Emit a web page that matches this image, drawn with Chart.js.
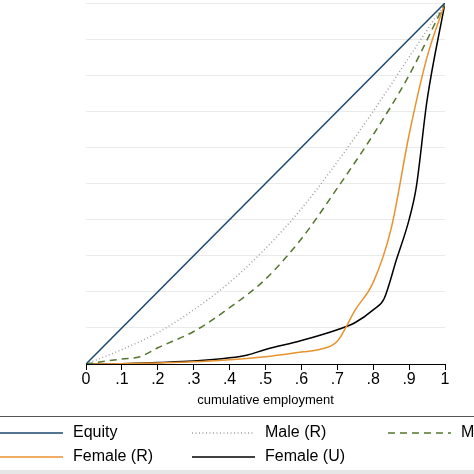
<!DOCTYPE html>
<html><head><meta charset="utf-8">
<script src="https://cdn.jsdelivr.net/npm/chart.js@4"></script>
<style>html,body{margin:0;padding:0;background:#fff}#c{display:block}</style>
</head><body>
<canvas id="c" width="474" height="474"></canvas>
<script>
// x values (cumulative employment) and curves
const equityX = [0, 1];
const equityY = [0, 1];
const maleRX = [0, .1, .2, .3, .4, .5, .6, .7, .8, .9, 1];
const maleRY = [0, .04, .087, .15, .226, .32, .43, .56, .70, .85, 1];
const maleUX = [0, .1, .15, .2, .3, .4, .5, .6, .7, .8, .9, 1];
const maleUY = [0, .014, .02, .045, .09, .156, .235, .347, .487, .635, .80, 1];
const femaleRX = [0, .1, .2, .3, .4, .5, .6, .65, .7, .75, .8, .85, .9, .95, 1];
const femaleRY = [0, .001, .003, .006, .012, .02, .033, .04, .063, .15, .226, .375, .635, .85, 1];
const femaleUX = [0, .1, .2, .3, .4, .45, .5, .6, .7, .75, .8, .83, .865, .9, .92, .95, 1];
const femaleUY = [0, .001, .004, .008, .017, .025, .04, .065, .095, .115, .15, .18, .29, .40, .49, .73, 1];
const xTicks = [0, .1, .2, .3, .4, .5, .6, .7, .8, .9, 1];

const pts = (xs, ys) => xs.map((x, i) => ({x: x, y: ys[i]}));

const series = [
  {label: 'Equity', data: pts(equityX, equityY), borderColor: '#1a476f', dash: []},
  {label: 'Male (R)', data: pts(maleRX, maleRY), borderColor: '#a0a0a0', dash: [1, 2.5]},
  {label: 'Male (U)', data: pts(maleUX, maleUY), borderColor: '#55752f', dash: [7, 5]},
  {label: 'Female (R)', data: pts(femaleRX, femaleRY), borderColor: '#e8922e', dash: []},
  {label: 'Female (U)', data: pts(femaleUX, femaleUY), borderColor: '#000000', dash: []}
];

// legend drawn by hand so it can run off the left/right edge like the original
const legendPlugin = {
  id: 'stataLegend',
  afterDraw(chart) {
    const ctx = chart.ctx;
    ctx.save();
    ctx.strokeStyle = '#555'; ctx.lineWidth = 1;
    ctx.beginPath(); ctx.moveTo(0, 416.5); ctx.lineTo(474, 416.5); ctx.stroke();
    ctx.fillStyle = '#e6e6e6'; ctx.fillRect(0, 470, 474, 4);
    const slots = [[0, 433], [192, 433], [388, 433], [0, 457], [192, 457]];
    ctx.font = '16px "Liberation Sans", Arial, sans-serif';
    ctx.textBaseline = 'middle';
    series.forEach((s, i) => {
      const [x, y] = slots[i];
      ctx.strokeStyle = s.borderColor; ctx.lineWidth = 1.5;
      ctx.setLineDash(s.dash);
      ctx.beginPath(); ctx.moveTo(x === 0 ? -5 : x, y); ctx.lineTo(x + 63, y); ctx.stroke();
      ctx.setLineDash([]);
      ctx.fillStyle = '#000';
      ctx.fillText(s.label, x + 73, y);
    });
    ctx.restore();
  }
};

new Chart(document.getElementById('c'), {
  type: 'scatter',
  data: {
    datasets: series.map(s => ({
      label: s.label, data: s.data, showLine: true, borderColor: s.borderColor,
      borderDash: s.dash, borderWidth: 1.5, pointRadius: 0, tension: 0.3,
      cubicInterpolationMode: 'monotone'
    }))
  },
  options: {
    responsive: false, animation: false,
    layout: {padding: {left: 86, right: 29, top: 3, bottom: 66}},
    plugins: {legend: {display: false}, tooltip: {enabled: false}},
    scales: {
      x: {
        type: 'linear', min: 0, max: 1,
        afterBuildTicks: s => { s.ticks = xTicks.map(v => ({value: v})); },
        afterFit: s => { s.height = 44; },
        grid: {drawOnChartArea: false, color: '#000', tickLength: 6},
        border: {color: '#000', width: 1},
        ticks: {color: '#000', font: {size: 16, family: 'Liberation Sans'}, padding: 0, maxRotation: 0,
          callback: v => v === 0 ? '0' : v === 1 ? '1' : String(v).replace(/^0/, '')},
        title: {display: true, text: 'cumulative employment', color: '#000', padding: {top: -2, bottom: 0},
          font: {size: 13, family: 'Liberation Sans'}}
      },
      y: {
        min: 0, max: 1,
        afterFit: s => { s.width = 0; },
        ticks: {display: false, stepSize: 0.1},
        grid: {color: '#eaeaea', drawTicks: false},
        border: {display: false}
      }
    }
  },
  plugins: [legendPlugin]
});
</script>
</body></html>
